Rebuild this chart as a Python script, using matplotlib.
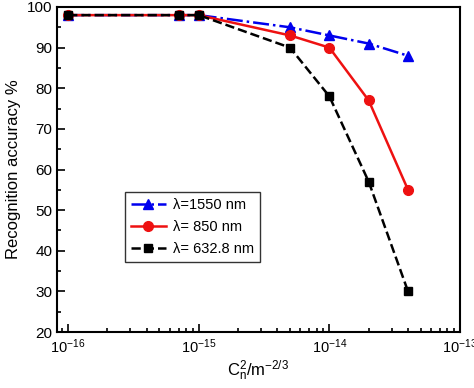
import matplotlib; matplotlib.use("Agg")
import matplotlib.pyplot as plt
from matplotlib.ticker import LogLocator, MultipleLocator

# data
cn2 = [1e-16, 7e-16, 1e-15, 5e-15, 1e-14, 2e-14, 4e-14]
acc_1550 = [98, 98, 98, 95, 93, 91, 88]
acc_850 = [98, 98, 98, 93, 90, 77, 55]
acc_6328 = [98, 98, 98, 90, 78, 57, 30]
labels = ["λ=1550 nm", "λ= 850 nm", "λ= 632.8 nm"]

plt.rcParams["font.family"] = ["Liberation Sans", "DejaVu Sans"]
plt.rcParams["mathtext.fontset"] = "custom"
plt.rcParams["mathtext.rm"] = "Liberation Sans"
fig = plt.figure(figsize=(4.74, 3.88), dpi=100)
ax = fig.add_axes([57/474, 1-332/388, 403/474, 325/388])

ax.plot(cn2, acc_1550, "-.", color="#0000ee", lw=1.8, marker="^", ms=7, label=labels[0])
ax.plot(cn2, acc_850, "-", color="#ee1111", lw=1.8, marker="o", ms=7, label=labels[1])
ax.plot(cn2, acc_6328, "--", color="black", lw=1.8, marker="s", ms=6, label=labels[2])

ax.set_xscale("log")
ax.set_xlim(10**-16.085, 1e-13)
ax.set_ylim(20, 100)
ax.xaxis.set_major_locator(LogLocator(base=10, numticks=10))
ax.xaxis.set_minor_locator(LogLocator(base=10, subs=range(2, 10), numticks=10))
ax.yaxis.set_major_locator(MultipleLocator(10))
ax.yaxis.set_minor_locator(MultipleLocator(5))
ax.tick_params(which="both", direction="in", top=False, right=False, labelsize=11, width=1.2)
ax.tick_params(which="major", length=6)
ax.tick_params(which="minor", length=3)
ax.tick_params(axis="x", pad=4, labelsize=10.5)
for s in ax.spines.values():
    s.set_linewidth(1.5)

ax.set_ylabel("Recognition accuracy %", fontsize=12, labelpad=4)
ax.set_xlabel(r"$\mathrm{C_n^2/m^{-2/3}}$", fontsize=12, labelpad=2)

leg = ax.legend(loc="upper left", bbox_to_anchor=(0.169, 0.431), borderaxespad=0, fontsize=10.5,
                frameon=True, fancybox=False, edgecolor="black", handlelength=2.4,
                handletextpad=0.5, borderpad=0.4, labelspacing=0.55)
leg.get_frame().set_linewidth(1.0)

fig.savefig("out.png", dpi=100)
